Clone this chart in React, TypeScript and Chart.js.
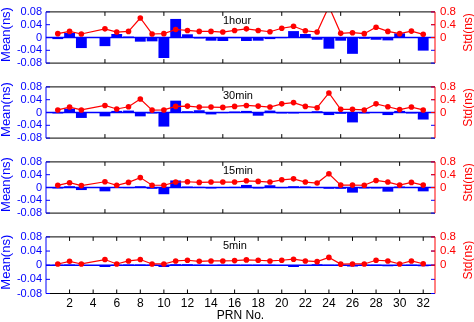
import React, { useEffect, useRef } from 'react';
import { Chart, registerables } from 'chart.js';

Chart.register(...registerables);
Chart.defaults.font.family = "'Liberation Sans', Arial, sans-serif";

const PRN = [1, 2, 3, 4, 5, 6, 7, 8, 9, 10, 11, 12, 13, 14, 15, 16, 17, 18, 19, 20, 21, 22, 23, 24, 25, 26, 27, 28, 29, 30, 31, 32];
const X_TICKS_BOTTOM = [2, 4, 6, 8, 10, 12, 14, 16, 18, 20, 22, 24, 26, 28, 30, 32];
const X_TICKS_UPPER = [5, 10, 15, 20, 25, 30];
const MEAN_TICKS = [-0.08, -0.04, 0, 0.04, 0.08];
const STD_TICKS = [-0.8, -0.4, 0, 0.4, 0.8];

const mean1h = [-0.005, 0.014, -0.033, null, -0.027, 0.011, 0.003, -0.013, -0.012, -0.064, 0.058, 0.010, -0.003, -0.010, -0.011, -0.002, -0.011, -0.010, -0.005, -0.002, 0.020, 0.011, -0.007, -0.035, -0.010, -0.051, -0.004, -0.007, -0.009, 0.013, 0.001, -0.041];
const std1h = [0.12, 0.19, 0.11, null, 0.27, 0.17, 0.19, 0.61, 0.11, 0.12, 0.25, 0.22, 0.19, 0.19, 0.17, 0.22, 0.27, 0.22, 0.18, 0.29, 0.35, 0.21, 0.17, 0.97, 0.13, 0.15, 0.12, 0.32, 0.19, 0.12, 0.20, 0.10];

const mean30 = [-0.003, 0.012, -0.017, null, -0.012, 0.005, 0.006, -0.012, -0.003, -0.044, 0.037, 0.004, 0.007, -0.006, -0.002, 0.003, 0.005, -0.010, 0.006, -0.003, -0.003, 0.001, 0.004, -0.008, -0.004, -0.031, -0.003, 0.001, -0.008, 0.005, -0.003, -0.022];
const std30 = [0.08, 0.17, 0.08, null, 0.22, 0.11, 0.18, 0.42, 0.075, 0.08, 0.19, 0.20, 0.17, 0.17, 0.16, 0.19, 0.22, 0.20, 0.17, 0.27, 0.31, 0.19, 0.15, 0.61, 0.10, 0.10, 0.08, 0.27, 0.18, 0.09, 0.17, 0.08];

const mean15 = [-0.003, 0.004, -0.008, null, -0.012, 0.001, -0.002, 0.004, -0.004, -0.021, 0.022, 0.003, 0.002, -0.003, 0.001, 0.002, 0.008, -0.003, 0.007, -0.002, 0.004, 0.003, 0.001, -0.004, -0.004, -0.016, -0.003, -0.003, -0.013, 0.003, 0.001, -0.012];
const std15 = [0.067, 0.15, 0.06, null, 0.18, 0.07, 0.16, 0.31, 0.07, 0.07, 0.17, 0.18, 0.16, 0.17, 0.17, 0.17, 0.21, 0.19, 0.17, 0.24, 0.27, 0.17, 0.14, 0.43, 0.075, 0.075, 0.07, 0.22, 0.17, 0.075, 0.16, 0.075];

const mean5 = [0.001, 0.002, -0.002, null, -0.005, 0.001, 0.002, 0.002, 0.001, -0.005, 0.003, 0.003, 0.001, -0.002, 0.001, 0.001, 0.001, 0.001, 0.001, -0.002, -0.005, -0.002, 0.003, 0.001, 0.001, -0.004, 0.001, 0.001, -0.003, -0.001, 0.001, -0.003];
const std5 = [0.035, 0.11, 0.035, null, 0.16, 0.035, 0.12, 0.16, 0.035, 0.035, 0.12, 0.14, 0.11, 0.12, 0.12, 0.13, 0.15, 0.14, 0.12, 0.14, 0.17, 0.12, 0.10, 0.22, 0.03, 0.035, 0.035, 0.14, 0.12, 0.035, 0.12, 0.04];

const PANEL_LABELS = ['1hour', '30min', '15min', '5min'];
const MEANS = [mean1h, mean30, mean15, mean5];
const STDS = [std1h, std30, std15, std5];

const BLUE = '#0000ff';
const RED = '#ff0000';
const FONT = "'Liberation Sans', Arial, sans-serif";

const framePlugin = {
  id: 'frame',
  beforeDatasetsDraw(chart: any) {
    const { ctx, chartArea: ca, scales } = chart;
    const y0 = scales.y.getPixelForValue(0);
    ctx.save();
    ctx.strokeStyle = BLUE;
    ctx.lineWidth = 1.5;
    ctx.beginPath();
    ctx.moveTo(ca.left, y0);
    ctx.lineTo(ca.right, y0);
    ctx.stroke();
    ctx.restore();
  },
  afterDraw(chart: any, _args: any, opts: any) {
    const { ctx, chartArea: ca, scales } = chart;
    const last = opts.last;
    const TL = 4;
    ctx.save();
    ctx.lineWidth = 1;
    const line = (x1: number, y1: number, x2: number, y2: number, c: string) => {
      ctx.strokeStyle = c;
      ctx.beginPath();
      ctx.moveTo(x1, y1);
      ctx.lineTo(x2, y2);
      ctx.stroke();
    };
    line(ca.left, ca.top, ca.right, ca.top, '#000');
    line(ca.left, ca.bottom, ca.right, ca.bottom, '#000');
    line(ca.left, ca.top, ca.left, ca.bottom, BLUE);
    for (const t of scales.x.ticks) {
      const px = scales.x.getPixelForValue(t.value);
      line(px, ca.top, px, ca.top + TL, '#000');
      line(px, ca.bottom, px, ca.bottom - TL, '#000');
    }
    for (const t of scales.y.ticks) {
      const py = scales.y.getPixelForValue(t.value);
      line(ca.left, py, ca.left + TL, py, BLUE);
      line(ca.right, py, ca.right - TL, py, BLUE);
    }
    line(ca.right, ca.top, ca.right, ca.bottom, RED);
    for (const t of scales.y1.ticks) {
      if (t.value < -1e-9) continue;
      const py = scales.y1.getPixelForValue(t.value);
      line(ca.right, py, ca.right - TL, py, RED);
    }
    ctx.fillStyle = '#000';
    ctx.font = `11px ${FONT}`;
    ctx.textAlign = 'left';
    ctx.textBaseline = 'middle';
    ctx.fillText(opts.label, ca.left + 177, ca.top + 9);

    const cy = (ca.top + ca.bottom) / 2;
    ctx.save();
    ctx.translate(6, cy - 3);
    ctx.rotate(-Math.PI / 2);
    ctx.textAlign = 'center';
    ctx.fillStyle = BLUE;
    ctx.font = `13px ${FONT}`;
    ctx.fillText('Mean(ns)', 0, 0);
    ctx.restore();

    ctx.save();
    ctx.translate(469, cy - 5);
    ctx.rotate(-Math.PI / 2);
    ctx.textAlign = 'center';
    ctx.fillStyle = RED;
    ctx.font = `12px ${FONT}`;
    ctx.fillText('Std(ns)', 0, 0);
    ctx.restore();

    if (last) {
      ctx.fillStyle = '#000';
      ctx.font = `12px ${FONT}`;
      ctx.textAlign = 'center';
      ctx.fillText('PRN No.', (ca.left + ca.right) / 2, 91);
    }
    ctx.restore();
  },
};

const setTicks = (vals: number[]) => (s: any) => {
  s.ticks = vals.map((v) => ({ value: v }));
};

function Panel({ idx, top, height, last }: { idx: number; top: number; height: number; last: boolean }) {
  const ref = useRef<HTMLCanvasElement>(null);
  useEffect(() => {
    const mean = MEANS[idx];
    const std = STDS[idx];
    const barData: any[] = [];
    const lineData: any[] = [];
    PRN.forEach((p, i) => {
      if (mean[i] != null) barData.push({ x: p, y: mean[i] });
      if (std[i] != null) lineData.push({ x: p, y: std[i] });
    });
    const chart = new Chart(ref.current as HTMLCanvasElement, {
      type: 'bar',
      data: {
        datasets: [
          {
            type: 'line',
            data: lineData,
            yAxisID: 'y1',
            order: 1,
            borderColor: RED,
            borderWidth: 1.2,
            pointRadius: 2.8,
            pointBackgroundColor: RED,
            pointBorderWidth: 0,
            clip: 0,
          } as any,
          {
            type: 'bar',
            data: barData,
            yAxisID: 'y',
            order: 2,
            backgroundColor: BLUE,
            borderWidth: 0,
            categoryPercentage: 1,
            barPercentage: 0.92,
          } as any,
        ],
      },
      options: {
        responsive: false,
        animation: false,
        devicePixelRatio: 1,
        layout: { padding: { top: 5, left: 0, right: 0, bottom: 0 } },
        plugins: {
          legend: { display: false },
          tooltip: { enabled: false },
          frame: { label: PANEL_LABELS[idx], last },
        } as any,
        scales: {
          x: {
            type: 'linear',
            min: 0,
            max: 33,
            offset: false,
            grid: { display: false, drawTicks: false },
            border: { display: false },
            afterBuildTicks: setTicks(last ? X_TICKS_BOTTOM : X_TICKS_UPPER),
            ticks: {
              display: last,
              autoSkip: false,
              maxRotation: 0,
              padding: 3,
              color: '#000',
              font: { size: 12 },
              callback: (v: any) => String(v),
            },
            afterFit: (s: any) => {
              s.height = last ? 28.5 : 6.5;
            },
          },
          y: {
            position: 'left',
            min: -0.08,
            max: 0.08,
            grid: { display: false, drawTicks: false },
            border: { display: false },
            afterBuildTicks: setTicks(MEAN_TICKS),
            ticks: {
              autoSkip: false,
              padding: 4,
              color: BLUE,
              font: { size: 11 },
              callback: (v: any) => {
                const r = Math.round(v * 100) / 100;
                return r === 0 ? '0' : r.toFixed(2);
              },
            },
            afterFit: (s: any) => {
              s.width = 46;
            },
          },
          y1: {
            position: 'right',
            min: -0.8,
            max: 0.8,
            grid: { display: false, drawTicks: false },
            border: { display: false },
            afterBuildTicks: setTicks(STD_TICKS),
            ticks: {
              autoSkip: false,
              padding: 5,
              color: RED,
              font: { size: 11.5 },
              callback: (v: any) => {
                const r = Math.round(v * 10) / 10;
                if (r < 0) return '';
                return r === 0 ? '0' : r.toFixed(1);
              },
            },
            afterFit: (s: any) => {
              s.width = 39;
            },
          },
        } as any,
      },
      plugins: [framePlugin],
    });
    return () => chart.destroy();
  }, []);
  return (
    <canvas
      ref={ref}
      width={474}
      height={height}
      style={{ position: 'absolute', left: 0, top, display: 'block' }}
    />
  );
}

export default function App() {
  return (
    <div style={{ position: 'fixed', left: 0, top: 0, width: 474, height: 322, background: '#fff' }}>
      <Panel idx={0} top={0} height={75} last={false} />
      <Panel idx={1} top={75} height={75} last={false} />
      <Panel idx={2} top={150} height={75} last={false} />
      <Panel idx={3} top={225} height={97} last={true} />
    </div>
  );
}
